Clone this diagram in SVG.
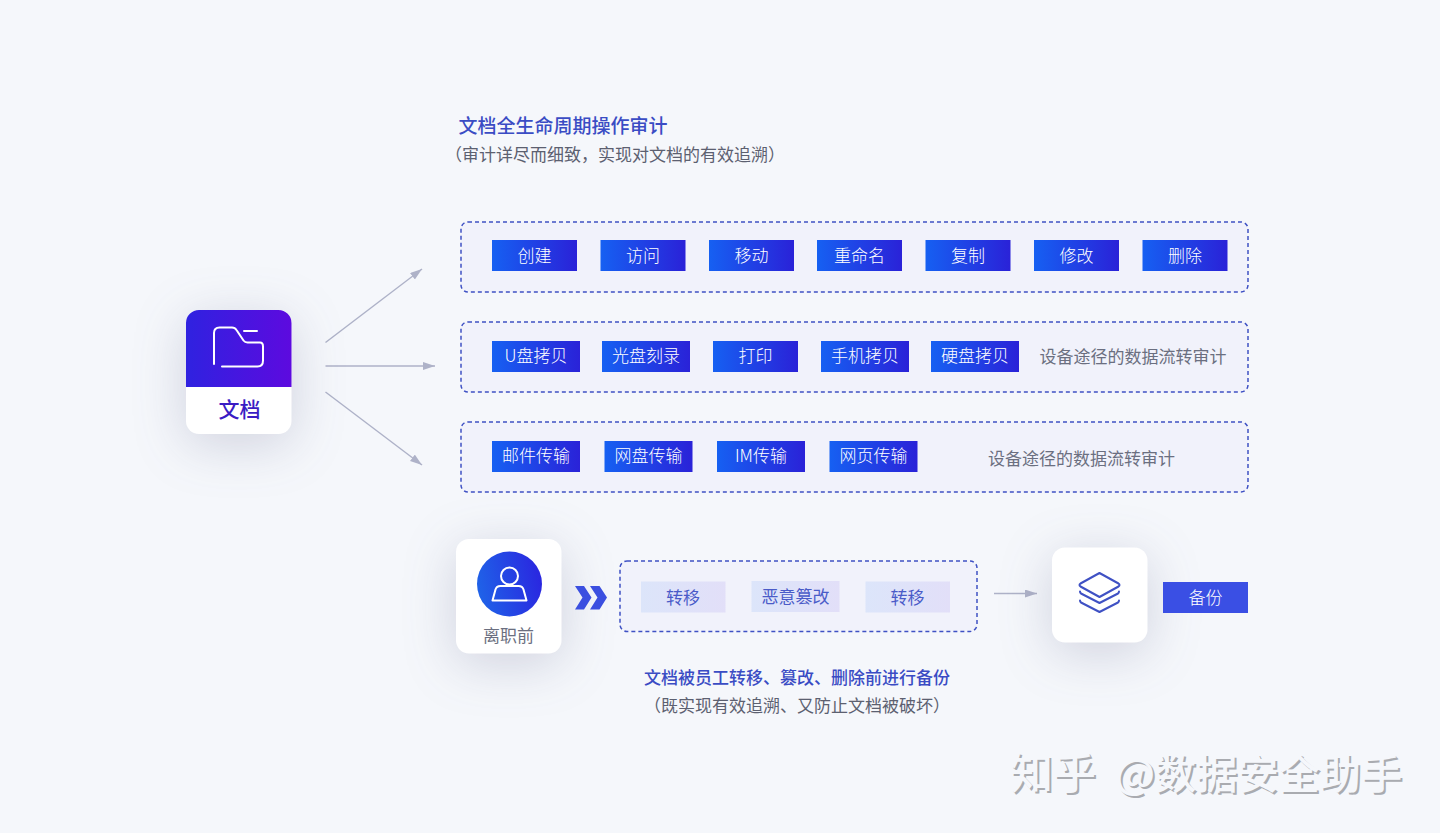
<svg xmlns="http://www.w3.org/2000/svg" width="1440" height="833" viewBox="0 0 1440 833">
<style>
text{font-family:"Noto Sans CJK SC","Liberation Sans",sans-serif;text-anchor:middle}
.box{fill:#f1f2fb;stroke:#3f51c4;stroke-width:1.5;stroke-dasharray:4 3}
.t{font-size:17px;fill:#fff;dominant-baseline:central;font-weight:300}
.g{font-size:17px;fill:#6b6f80;dominant-baseline:central}
.l{font-size:17px;fill:#4a5bc8;dominant-baseline:central}
.b{fill:url(#blue)}
.p{fill:url(#pale)}
.ln{stroke:#aeb2c8;stroke-width:1.4;fill:none;marker-end:url(#ah)}
.ic{fill:none;stroke:#fff;stroke-width:2;stroke-linecap:round;stroke-linejoin:round}
.ti{font-size:19px;font-weight:500;fill:#3a4cc4;dominant-baseline:central}
.su{font-size:17px;fill:#5c6070;dominant-baseline:central}
.wm{font-size:43px;font-weight:500;text-anchor:start}
</style>
<defs>
<linearGradient id="blue" x1="0" x2="1" y1="0" y2="0"><stop offset="0" stop-color="#1660f2"/><stop offset="1" stop-color="#2a22d8"/></linearGradient>
<linearGradient id="pale" x1="0" x2="1" y1="0" y2="0"><stop offset="0" stop-color="#dce5fa"/><stop offset="1" stop-color="#e2dff8"/></linearGradient>
<linearGradient id="purple" x1="0" x2="1" y1="0" y2="0"><stop offset="0" stop-color="#2f22e0"/><stop offset="1" stop-color="#5d0adf"/></linearGradient>
<linearGradient id="circ" x1="0" x2="1" y1="0.6" y2="0.4"><stop offset="0" stop-color="#1f63e8"/><stop offset="1" stop-color="#2a26e0"/></linearGradient>
<marker id="ah" markerUnits="userSpaceOnUse" markerWidth="13" markerHeight="9" refX="12" refY="4" orient="auto"><path d="M0 0L12 4L0 8Z" fill="#aeb2c8"/></marker>
<filter id="sh" x="-80%" y="-80%" width="260%" height="260%" color-interpolation-filters="sRGB"><feDropShadow dx="0" dy="10" stdDeviation="26" flood-color="#3c4270" flood-opacity="0.2"/></filter>
</defs>
<rect width="1440" height="833" fill="#f5f7fb"/>

<g id="title"><text class="ti" x="563" y="124.500">文档全生命周期操作审计</text><text class="su" x="615" y="153.500">（审计详尽而细致，实现对文档的有效追溯）</text></g>

<g id="connectors">
<line class="ln" x1="325.500" y1="342.500" x2="422" y2="269"/>
<line class="ln" x1="325.500" y1="366" x2="435" y2="366"/>
<line class="ln" x1="325.500" y1="392" x2="422" y2="465"/>
<line class="ln" x1="994" y1="593.500" x2="1037" y2="593.500"/>
</g>

<g id="doc">
<rect x="186" y="310" width="105.500" height="124" rx="13" fill="#fff" filter="url(#sh)"/>
<path d="M186 387V323a13 13 0 0 1 13-13h79.500a13 13 0 0 1 13 13V387Z" fill="url(#purple)"/>
<path class="ic" d="M214 364V333q0-5.500 5.500-5.500h12.500q3 0 4.500 2.500l7 10.500q1.500 2 4 2h12.500q3 0 3 4v14q0 6-5.500 6H222M244 331h13"/>
<text x="239.500" y="408" font-size="21" font-weight="500" fill="#3a1cc4" dominant-baseline="central">文档</text>
</g>

<g id="row1">
<rect class="box" x="461" y="222" width="787" height="70" rx="7"/>
<rect class="b" x="492" y="240" width="85" height="31"/><text class="t" x="534.500" y="254.500">创建</text>
<rect class="b" x="600.500" y="240" width="85" height="31"/><text class="t" x="643" y="254.500">访问</text>
<rect class="b" x="709" y="240" width="85" height="31"/><text class="t" x="751.500" y="254.500">移动</text>
<rect class="b" x="817" y="240" width="85" height="31"/><text class="t" x="859.500" y="254.500">重命名</text>
<rect class="b" x="925.500" y="240" width="85" height="31"/><text class="t" x="968" y="254.500">复制</text>
<rect class="b" x="1034" y="240" width="85" height="31"/><text class="t" x="1076.500" y="254.500">修改</text>
<rect class="b" x="1142.500" y="240" width="85" height="31"/><text class="t" x="1185" y="254.500">删除</text>
</g>

<g id="row2">
<rect class="box" x="461" y="322" width="787" height="70" rx="7"/>
<rect class="b" x="492" y="341" width="88" height="31"/><text class="t" x="536" y="354.500">U盘拷贝</text>
<rect class="b" x="602" y="341" width="88" height="31"/><text class="t" x="646" y="354.500">光盘刻录</text>
<rect class="b" x="713" y="341" width="85" height="31"/><text class="t" x="755.500" y="354.500">打印</text>
<rect class="b" x="821" y="341" width="88" height="31"/><text class="t" x="865" y="354.500">手机拷贝</text>
<rect class="b" x="931" y="341" width="88" height="31"/><text class="t" x="975" y="354.500">硬盘拷贝</text>
<text class="g" x="1133" y="355.500">设备途径的数据流转审计</text>
</g>

<g id="row3">
<rect class="box" x="461" y="422" width="787" height="70" rx="7"/>
<rect class="b" x="492" y="441" width="88" height="31"/><text class="t" x="536" y="454.500">邮件传输</text>
<rect class="b" x="604.500" y="441" width="88" height="31"/><text class="t" x="648.500" y="454.500">网盘传输</text>
<rect class="b" x="717" y="441" width="88" height="31"/><text class="t" x="761" y="454.500">IM传输</text>
<rect class="b" x="829.500" y="441" width="88" height="31"/><text class="t" x="873.500" y="454.500">网页传输</text>
<text class="g" x="1081.500" y="457">设备途径的数据流转审计</text>
</g>

<g id="person">
<rect x="456" y="539" width="105.500" height="114.500" rx="13" fill="#fff" filter="url(#sh)"/>
<circle cx="509.500" cy="584" r="32.500" fill="url(#circ)"/>
<circle class="ic" cx="509.500" cy="576" r="8.500"/>
<path class="ic" d="M492.500 600.500l3-11q1-3.500 5-3.500h18q4 0 5 3.500l3 11Z"/>
<text class="g" x="508.500" y="634">离职前</text>
</g>

<g id="chevrons" fill="#3b4fe0"><path d="M575 586h9l7.500 11.500L584 609.500h-9l7.500-12Z"/><path d="M590 586h9.500l7.500 11.500-7.500 12H590l7.500-12Z"/></g>

<g id="row4">
<rect class="box" x="620" y="561" width="357" height="70.500" rx="7"/>
<rect class="p" x="641" y="581.500" width="84.500" height="31"/><text class="l" x="683" y="596">转移</text>
<rect class="p" x="751.500" y="581" width="88" height="31"/><text class="l" x="795.500" y="595">恶意篡改</text>
<rect class="p" x="865.500" y="581.500" width="84.500" height="31"/><text class="l" x="907.500" y="596">转移</text>
</g>

<g id="layers">
<rect x="1052" y="547.500" width="95.500" height="95" rx="13" fill="#fff" filter="url(#sh)"/>
<g fill="none" stroke="#3f51c4" stroke-width="2" stroke-linecap="round" stroke-linejoin="round">
<path d="M1099.500 573l19 10.500q2 1.500 0 3l-19 10.500-19-10.500q-2-1.500 0-3Z"/>
<path d="M1080 591.500q0 1 1 2l18.500 9.500 18.500-9.500q1-1 1-2"/>
<path d="M1080 600.500q0 1 1 2l18.500 9.500 18.500-9.500q1-1 1-2"/>
</g>
</g>

<g id="backup"><rect x="1163" y="582" width="85" height="31" fill="#3a4fe4"/><text class="t" x="1205.500" y="596">备份</text></g>

<g id="caption"><text class="ti" style="font-size:17px" x="797" y="676">文档被员工转移、篡改、删除前进行备份</text><text class="su" x="797" y="704">（既实现有效追溯、又防止文档被破坏）</text></g>

<g id="watermark">
<text class="wm" x="1012" y="791" fill="#a9abb0">知乎<tspan x="1117" font-size="41.200">@数据安全助手</tspan></text>
<text class="wm" x="1010" y="789" fill="#f5f7fb">知乎<tspan x="1115" font-size="41.200">@数据安全助手</tspan></text>
</g>
</svg>
